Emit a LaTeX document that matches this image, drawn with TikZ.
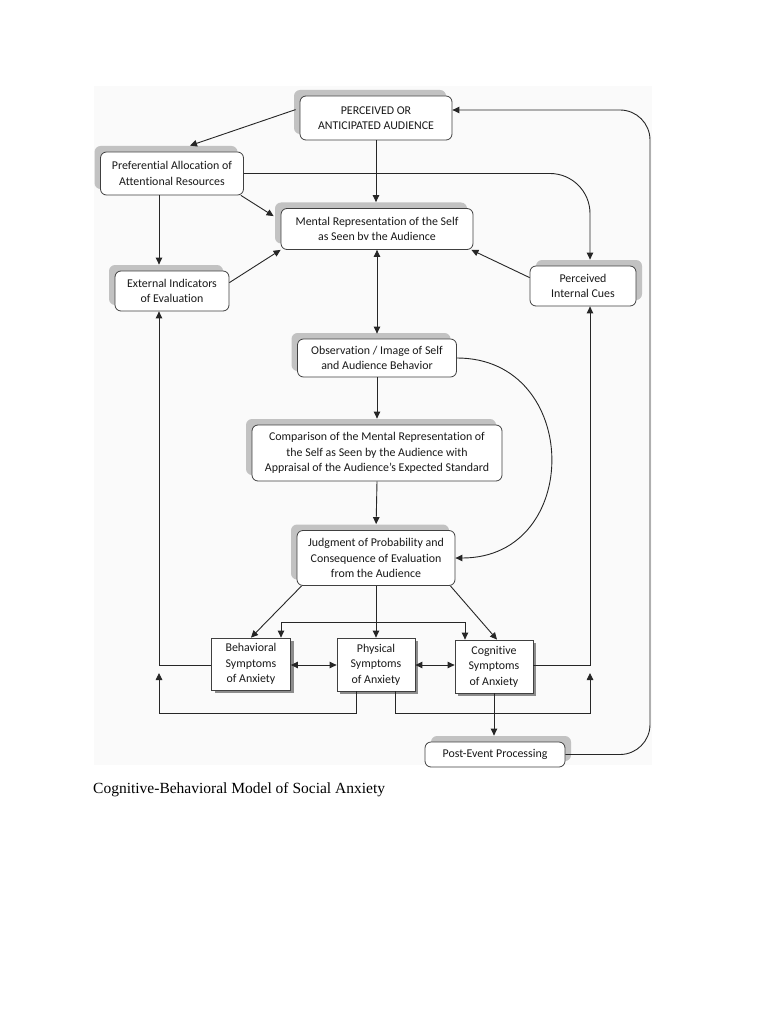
\documentclass[tikz,border=0pt]{standalone}
\usepackage{fontspec}
\setmainfont{Liberation Serif}
\newfontfamily\boxfont[Ligatures=NoCommon]{Carlito}
\usetikzlibrary{arrows.meta,shadows,calc}
\begin{document}
\begin{tikzpicture}[x=1pt,y=-1pt,
  line/.style={draw=black!85, line width=0.9pt},
  arr/.style={line, -{Triangle[length=7pt,width=6.5pt]}},
  darr/.style={line, {Triangle[length=7pt,width=6.5pt]}-{Triangle[length=7pt,width=6.5pt]}},
  boxtext/.style={align=center, font=\boxfont\fontsize{11.9}{15.5}\selectfont, inner sep=0pt, text=black!90},
  rbox/.style={boxtext, draw=black!75, line width=0.8pt, fill=white, rounded corners=6pt},
  shl/.style={drop shadow={shadow xshift=-6pt, shadow yshift=6pt, fill=black!24, opacity=1}},
  shr/.style={drop shadow={shadow xshift=6pt, shadow yshift=6pt, fill=black!24, opacity=1}},
  sbox/.style={boxtext, draw=black!75, line width=0.8pt, fill=white,
    drop shadow={shadow xshift=3pt, shadow yshift=-3pt, fill=black!45, opacity=1}},
]
\fill[white] (0,0) rectangle (768,1024);
\useasboundingbox (0,0) rectangle (768,1024);
\fill[black!2] (94,86) rectangle (652,765);

\coordinate (L) at (159,0);
\coordinate (R) at (590,0);
\coordinate (H) at (0,665);
\coordinate (T) at (0,622);
\coordinate (B) at (0,713);
\coordinate (LA) at (159,673);
\coordinate (RA) at (590,673);
\coordinate (TR) at (650,110);
\coordinate (BR) at (650,754);

\node[rbox, shl, minimum width=152pt, minimum height=44pt] (per) at (376,118) {PERCEIVED OR\\ANTICIPATED AUDIENCE};
\node[rbox, shl, minimum width=143pt, minimum height=43pt] (pref) at (172,173.5) {Preferential Allocation of\\Attentional Resources};
\node[rbox, shl, minimum width=192pt, minimum height=41pt] (ment) at (377,229) {Mental Representation of the Self\\as Seen bv the Audience};
\node[rbox, shl, minimum width=114pt, minimum height=40pt] (ext) at (172,291) {External Indicators\\of Evaluation};
\node[rbox, shr, minimum width=106pt, minimum height=40pt] (pic) at (583,286) {Perceived\\Internal Cues};
\node[rbox, shl, minimum width=159pt, minimum height=38pt] (obs) at (377,358) {Observation / Image of Self\\and Audience Behavior};
\node[rbox, shl, minimum width=250pt, minimum height=56pt] (comp) at (377,453) {Comparison of the Mental Representation of\\the Self as Seen by the Audience with\\Appraisal of the Audience’s Expected Standard};
\node[rbox, shl, minimum width=158pt, minimum height=55pt] (judg) at (376,558) {Judgment of Probability and\\Consequence of Evaluation\\from the Audience};
\node[sbox, minimum width=79pt, minimum height=52pt] (beh) at (251,664) {Behavioral\\Symptoms\\of Anxiety};
\node[sbox, minimum width=78pt, minimum height=53pt] (phys) at (376,664.5) {Physical\\Symptoms\\of Anxiety};
\node[sbox, minimum width=78pt, minimum height=53pt] (cog) at (494,666.5) {Cognitive\\Symptoms\\of Anxiety};
\node[rbox, shr, minimum width=140pt, minimum height=25pt] (post) at (495,754.5) {Post-Event Processing};

\node[anchor=base west, font=\fontsize{15.5}{18}\selectfont, inner sep=0pt] (cap) at (93,793) {Cognitive-Behavioral Model of Social Anxiety};

% top part
\draw[arr] ($(per.north west)+(-4,14)$) -- ($(pref.north)+(18,-6)$);
\draw[arr, shorten >=6pt] (per.south) -- (per.south |- ment.north);
\draw[arr, shorten >=6pt] (pref.south -| L) -- (ext.north -| L);
\draw[arr] ($(pref.south east)+(-3,0)$) -- ($(ment.north west)+(-7,8)$);
\draw[arr, rounded corners=40pt, shorten >=6pt] (pref.east) -- (pref.east -| R) -- (pic.north -| R);
\draw[arr] ($(ext.north east)+(0,12)$) -- (ment.south west);
\draw[arr] ($(pic.north west)+(0,12)$) -- ($(ment.south east)+(-2,0)$);

% central column
\draw[darr, shorten >=5pt] (ment.south) -- (obs.north);
\draw[arr, shorten >=6pt] (obs.south) -- (comp.north);
\draw[arr, shorten >=6pt] (comp.south) -- (judg.north);
\draw[arr] (obs.east) .. controls +(125,0) and +(128,0) .. (judg.east);

% symptoms
\draw[arr] ($(judg.south west)+(5,0)$) -- (beh.north);
\draw[arr] (judg.south) -- (phys.north);
\draw[arr] ($(judg.south east)+(-5,0)$) -- ($(cog.north)+(3,0)$);
\coordinate (bk1) at ($(beh.north)+(30,0)$);
\coordinate (bk2) at ($(cog.north)+(-29,0)$);
\draw[darr] (bk1) -- (bk1 |- T) -- (bk2 |- T) -- (bk2);
\draw[darr] (beh.east |- H) -- (phys.west |- H);
\draw[darr] (phys.east |- H) -- (cog.west |- H);
\draw[arr] (beh.west |- H) -- (H -| L) -- (ext.south -| L);
\draw[arr] (cog.east |- H) -- (H -| R) -- (pic.south -| R);
\coordinate (pb1) at ($(phys.south)+(-20,0)$);
\coordinate (pb2) at ($(phys.south)+(19,0)$);
\draw[arr] (pb1) -- (pb1 |- B) -- (B -| L) -- (LA);
\draw[arr] (pb2) -- (pb2 |- B) -- (B -| R) -- (RA);
\draw[arr, shorten >=6pt] (cog.south) -- (cog.south |- post.north);
\draw[arr, rounded corners=30pt] (post.east) -- (post.east -| BR) -- (TR) -- (TR -| per.east);
\end{tikzpicture}
\end{document}
